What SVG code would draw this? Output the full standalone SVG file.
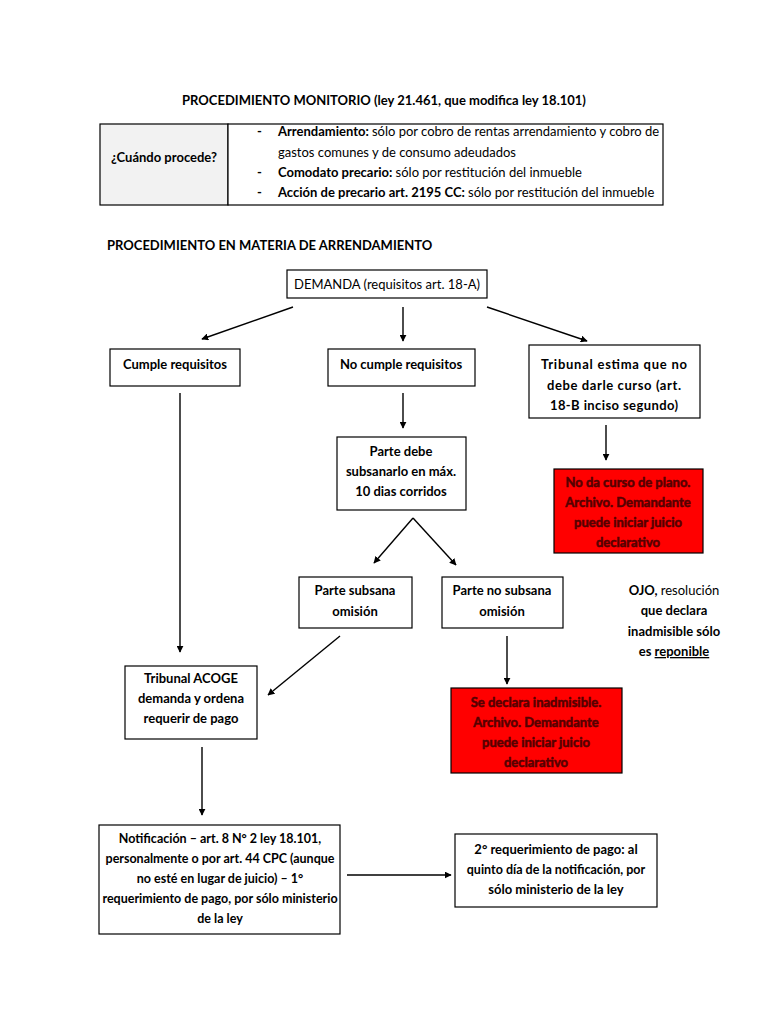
<svg xmlns="http://www.w3.org/2000/svg" width="768" height="1024" viewBox="0 0 768 1024">
<defs>
<style>
text{font-family:Lato,"Liberation Sans",sans-serif;font-size:13px;fill:#000;font-weight:bold}
.c{text-anchor:middle}
.n{font-weight:normal}
.box{fill:#fff;stroke:#000;stroke-width:1.2}
.red{fill:#ff0000;stroke:#000;stroke-width:1.2}
.rt{fill:#550000;stroke:#550000;stroke-width:0.5;font-weight:bold}
.sm{font-size:12.5px}
.ln{stroke:#000;stroke-width:1.4;fill:none;marker-end:url(#ah)}
</style>
<marker id="ah" viewBox="0 0 10 10" refX="9" refY="5" markerWidth="7" markerHeight="7" orient="auto" markerUnits="userSpaceOnUse">
<path d="M0,0L10,5L0,10z" fill="#000"/>
</marker>
</defs>
<rect width="768" height="1024" fill="#fff"/>
<text class="c" x="384" y="105">PROCEDIMIENTO MONITORIO (ley 21.461, que modifica ley 18.101)</text>
<g id="tabla">
<rect x="100" y="124" width="128" height="81" fill="#f2f2f2" stroke="#000" stroke-width="1.2"/>
<rect x="228" y="124" width="435" height="81" fill="#fff" stroke="#000" stroke-width="1.2"/>
<text class="c" x="164" y="162">¿Cuándo procede?</text>
<text x="257" y="136">-</text><text x="278" y="136">Arrendamiento: <tspan class="n">sólo por cobro de rentas arrendamiento y cobro de</tspan></text>
<text x="278" y="157" class="n">gastos comunes y de consumo adeudados</text>
<text x="257" y="177">-</text><text x="278" y="177">Comodato precario: <tspan class="n">sólo por restitución del inmueble</tspan></text>
<text x="257" y="197">-</text><text x="278" y="197">Acción de precario art. 2195 CC: <tspan class="n">sólo por restitución del inmueble</tspan></text>
</g>
<text x="107" y="250">PROCEDIMIENTO EN MATERIA DE ARRENDAMIENTO</text>
<g id="connectors">
<line class="ln" x1="293" y1="307" x2="202" y2="339"/>
<line class="ln" x1="403" y1="307" x2="403" y2="341"/>
<line class="ln" x1="487" y1="307" x2="587" y2="341"/>
<line class="ln" x1="180" y1="393" x2="180" y2="652"/>
<line class="ln" x1="403" y1="393" x2="403" y2="428"/>
<line class="ln" x1="606" y1="425" x2="606" y2="460"/>
<line class="ln" x1="413" y1="518" x2="374" y2="563"/>
<line class="ln" x1="413" y1="518" x2="456" y2="565"/>
<line class="ln" x1="340" y1="636" x2="268" y2="695"/>
<line class="ln" x1="507" y1="636" x2="507" y2="684"/>
<line class="ln" x1="202" y1="747" x2="202" y2="815"/>
<line class="ln" x1="347" y1="875" x2="451" y2="875"/>
</g>
<g id="demanda"><rect class="box" x="287" y="270" width="200" height="28"/><text class="c n" x="387" y="289" style="font-weight:normal">DEMANDA (requisitos art. 18-A)</text></g>
<g id="cumple"><rect class="box" x="110" y="349" width="130" height="37"/><text class="c" x="175" y="369">Cumple requisitos</text></g>
<g id="nocumple"><rect class="box" x="328" y="349" width="147" height="37"/><text class="c" x="401" y="369">No cumple requisitos</text></g>
<g id="tribunal-estima"><rect class="box" x="529" y="345" width="171" height="73"/>
<text class="c" x="614" y="369" textLength="146">Tribunal estima que no</text><text class="c" x="614" y="390" textLength="134">debe darle curso (art.</text><text class="c" x="614" y="410" textLength="128">18-B inciso segundo)</text></g>
<g id="parte-debe"><rect class="box" x="337" y="437" width="129" height="73"/>
<text class="c" x="401" y="456">Parte debe</text><text class="c" x="401" y="476">subsanarlo en máx.</text><text class="c" x="401" y="496">10 dias corridos</text></g>
<g id="no-da-curso"><rect class="red" x="554" y="469" width="149" height="84"/>
<text class="c rt" x="628" y="487">No da curso de plano.</text><text class="c rt" x="628" y="507">Archivo. Demandante</text><text class="c rt" x="628" y="527">puede iniciar juicio</text><text class="c rt" x="628" y="547">declarativo</text></g>
<g id="parte-subsana"><rect class="box" x="299" y="577" width="113" height="51"/>
<text class="c" x="355" y="595">Parte subsana</text><text class="c" x="355" y="616">omisión</text></g>
<g id="parte-no-subsana"><rect class="box" x="442" y="577" width="121" height="51"/>
<text class="c" x="502" y="595">Parte no subsana</text><text class="c" x="502" y="616">omisión</text></g>
<g id="ojo">
<text class="c" x="674" y="595">OJO, <tspan class="n">resolución</tspan></text>
<text class="c" x="674" y="615">que declara</text>
<text class="c" x="674" y="636">inadmisible sólo</text>
<text class="c" x="674" y="656">es <tspan text-decoration="underline">reponible</tspan></text>
</g>
<g id="tribunal-acoge"><rect class="box" x="125" y="666" width="132" height="73"/>
<text class="c" x="191" y="683">Tribunal ACOGE</text><text class="c" x="191" y="703">demanda y ordena</text><text class="c" x="191" y="723">requerir de pago</text></g>
<g id="inadmisible"><rect class="red" x="451" y="688" width="171" height="85"/>
<text class="c rt" x="536" y="707">Se declara inadmisible.</text><text class="c rt" x="536" y="727">Archivo. Demandante</text><text class="c rt" x="536" y="747">puede iniciar juicio</text><text class="c rt" x="536" y="767">declarativo</text></g>
<g id="notificacion"><rect class="box" x="99" y="825" width="241" height="109"/>
<text class="c sm" x="220" y="843">Notificación – art. 8 N° 2 ley 18.101,</text>
<text class="c sm" x="220" y="863">personalmente o por art. 44 CPC (aunque</text>
<text class="c sm" x="220" y="883">no esté en lugar de juicio) – 1°</text>
<text class="c sm" x="220" y="903">requerimiento de pago, por sólo ministerio</text>
<text class="c sm" x="220" y="923">de la ley</text></g>
<g id="segundo-req"><rect class="box" x="455" y="834" width="202" height="73"/>
<text class="c" x="556" y="854">2° requerimiento de pago: al</text>
<text class="c sm" x="556" y="874">quinto día de la notificación, por</text>
<text class="c" x="556" y="894">sólo ministerio de la ley</text></g>
</svg>
